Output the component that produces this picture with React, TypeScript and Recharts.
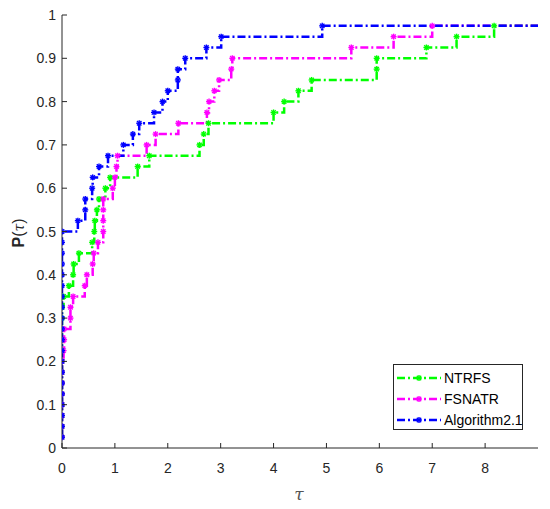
import React from 'react';
import { LineChart, Line, XAxis, YAxis } from 'recharts';

const xTicks = [0, 1, 2, 3, 4, 5, 6, 7, 8];
const yTicks = [0, 0.1, 0.2, 0.3, 0.4, 0.5, 0.6, 0.7, 0.8, 0.9, 1];

const ntrfsTau = [0, 0, 0, 0, 0, 0, 0, 0, 0, 0, 0, 0, 0,
  0.03, 0.13, 0.21, 0.22, 0.32, 0.57, 0.61, 0.62, 0.66, 0.7, 0.82, 0.91, 1.43, 1.65,
  2.6, 2.68, 2.77, 4.0, 4.2, 4.47, 4.72, 5.95, 5.95, 6.89, 7.46, 8.17, 9];
const ntrfsP = [0.025, 0.05, 0.075, 0.1, 0.125, 0.15, 0.175, 0.2, 0.225, 0.25, 0.275, 0.3, 0.325,
  0.35, 0.375, 0.4, 0.425, 0.45, 0.475, 0.5, 0.525, 0.55, 0.575, 0.6, 0.625, 0.65, 0.675,
  0.7, 0.725, 0.75, 0.775, 0.8, 0.825, 0.85, 0.875, 0.9, 0.925, 0.95, 0.975, 0.975];

const fsnatrTau = [0, 0, 0, 0, 0, 0, 0, 0,
  0.03, 0.04, 0.04, 0.16, 0.16, 0.21, 0.43, 0.47, 0.58, 0.6, 0.68, 0.78, 0.78, 0.78, 0.78,
  0.96, 1.0, 1.03, 1.05, 1.6, 1.77, 2.2, 2.74, 2.78, 2.88, 2.97, 3.2, 3.22, 5.47, 6.27, 7.0, 9];
const fsnatrP = [0.025, 0.05, 0.075, 0.1, 0.125, 0.15, 0.175, 0.2,
  0.225, 0.25, 0.275, 0.3, 0.325, 0.35, 0.375, 0.4, 0.425, 0.45, 0.475, 0.5, 0.525, 0.55, 0.575,
  0.6, 0.625, 0.65, 0.675, 0.7, 0.725, 0.75, 0.775, 0.8, 0.825, 0.85, 0.875, 0.9, 0.925, 0.95, 0.975, 0.975];

const algTau = [0, 0, 0, 0, 0, 0, 0, 0, 0, 0, 0, 0, 0, 0, 0, 0, 0, 0, 0, 0,
  0.3, 0.44, 0.44, 0.57, 0.58, 0.7, 0.87, 1.16, 1.34, 1.46, 1.74, 1.9, 2.0, 2.19, 2.19,
  2.33, 2.73, 3.01, 4.92, 9];
const algP = [0.025, 0.05, 0.075, 0.1, 0.125, 0.15, 0.175, 0.2, 0.225, 0.25, 0.275, 0.3, 0.325,
  0.35, 0.375, 0.4, 0.425, 0.45, 0.475, 0.5,
  0.525, 0.55, 0.575, 0.6, 0.625, 0.65, 0.675, 0.7, 0.725, 0.75, 0.775, 0.8, 0.825, 0.85, 0.875,
  0.9, 0.925, 0.95, 0.975, 0.975];

const seriesNames = ['NTRFS', 'FSNATR', 'Algorithm2.1'];
const seriesColors = ['#00ff00', '#ff00ff', '#0000ff'];

const build = (tau: number[], p: number[]) =>
  tau.map((t, i) => ({ t, p: p[i], end: i === tau.length - 1 }));

const ntrfsData = build(ntrfsTau, ntrfsP);
const fsnatrData = build(fsnatrTau, fsnatrP);
const algData = build(algTau, algP);

const AXIS = '#262626';
const FONT = '"Liberation Sans", Arial, sans-serif';
const DASH = '8 3 2 3';

const makeDot = (color: string) => (props: any) => {
  const { cx, cy, payload, index } = props;
  if (payload && payload.end) return <g key={'d' + index} />;
  const r = 3;
  const d = 2.2;
  return (
    <g key={'d' + index} stroke={color} strokeWidth={1.4}>
      <line x1={cx - r} y1={cy} x2={cx + r} y2={cy} />
      <line x1={cx} y1={cy - r} x2={cx} y2={cy + r} />
      <line x1={cx - d} y1={cy - d} x2={cx + d} y2={cy + d} />
      <line x1={cx - d} y1={cy + d} x2={cx + d} y2={cy - d} />
    </g>
  );
};

const BottomTick = (props: any) => {
  const { x, y, payload } = props;
  return (
    <g>
      <line x1={x} y1={y} x2={x} y2={y - 5} stroke={AXIS} strokeWidth={1} />
      <text x={x} y={y + 25} textAnchor="middle" fontSize={14} fill={AXIS} fontFamily={FONT}>
        {payload.value}
      </text>
    </g>
  );
};

const TopTick = (props: any) => {
  const { x, y } = props;
  return <line x1={x} y1={y} x2={x} y2={y + 5} stroke={AXIS} strokeWidth={1} />;
};

const LeftTick = (props: any) => {
  const { x, y, payload } = props;
  return (
    <g>
      <line x1={x} y1={y} x2={x + 5} y2={y} stroke={AXIS} strokeWidth={1} />
      <text x={x - 6} y={y + 5} textAnchor="end" fontSize={14} fill={AXIS} fontFamily={FONT}>
        {payload.value}
      </text>
    </g>
  );
};

const RightTick = (props: any) => {
  const { x, y } = props;
  return <line x1={x} y1={y} x2={x - 5} y2={y} stroke={AXIS} strokeWidth={1} />;
};

const datasets = [ntrfsData, fsnatrData, algData];

export default function App() {
  return (
    <div style={{ position: 'absolute', left: 0, top: 0, width: 550, height: 509, background: '#fff' }}>
      <LineChart width={550} height={509} margin={{ top: 15, right: 12, left: 0, bottom: 21 }}>
        <XAxis
          xAxisId="b"
          dataKey="t"
          type="number"
          domain={[0, 9]}
          ticks={xTicks}
          allowDataOverflow
          height={40}
          tickSize={0}
          tickMargin={0}
          tickLine={false}
          tick={<BottomTick />}
          axisLine={{ stroke: AXIS, strokeWidth: 1 }}
          label={{
            content: () => (
              <text x={299} y={500} textAnchor="middle" fontSize={17} fontStyle="italic" fill="#555" fontFamily="'DejaVu Serif', serif">
                τ
              </text>
            ),
          }}
        />
        <XAxis
          xAxisId="t"
          dataKey="t"
          type="number"
          orientation="top"
          domain={[0, 9]}
          ticks={xTicks}
          allowDataOverflow
          height={0}
          tickSize={0}
          tickMargin={0}
          tickLine={false}
          tick={<TopTick />}
          axisLine={{ stroke: AXIS, strokeWidth: 1 }}
        />
        <YAxis
          yAxisId="l"
          type="number"
          domain={[0, 1]}
          ticks={yTicks}
          allowDataOverflow
          width={62}
          tickSize={0}
          tickMargin={0}
          tickLine={false}
          tick={<LeftTick />}
          axisLine={{ stroke: AXIS, strokeWidth: 1 }}
          label={{
            content: () => (
              <text transform="translate(24,233) rotate(-90)" textAnchor="middle" fontSize={16} fill={AXIS} fontFamily={FONT}>
                <tspan fontWeight="bold">P</tspan>
                <tspan>(</tspan>
                <tspan fontStyle="italic" fontFamily="'DejaVu Serif', serif" fontSize={14}>τ</tspan>
                <tspan>)</tspan>
              </text>
            ),
          }}
        />
        <YAxis
          yAxisId="r"
          type="number"
          orientation="right"
          domain={[0, 1]}
          ticks={yTicks}
          allowDataOverflow
          width={0}
          tickSize={0}
          tickMargin={0}
          tickLine={false}
          tick={<RightTick />}
          axisLine={{ stroke: AXIS, strokeWidth: 1 }}
        />
        {datasets.map((d, i) => (
          <Line
            key={seriesNames[i]}
            xAxisId="b"
            yAxisId="l"
            data={d}
            dataKey="p"
            type="stepAfter"
            stroke={seriesColors[i]}
            strokeWidth={2.5}
            strokeDasharray={DASH}
            dot={makeDot(seriesColors[i])}
            activeDot={false}
            isAnimationActive={false}
          />
        ))}
      </LineChart>
      <div
        style={{
          position: 'absolute',
          left: 393,
          top: 364,
          width: 130,
          height: 66,
          border: '1px solid ' + AXIS,
          background: '#fff',
          boxSizing: 'border-box',
        }}
      >
        <svg width={130} height={66} style={{ position: 'absolute', left: -1, top: -1 }}>
          {seriesNames.map((n, i) => {
            const cy = 14 + i * 21;
            return (
              <g key={n}>
                <line x1={4} y1={cy} x2={48} y2={cy} stroke={seriesColors[i]} strokeWidth={2.5} strokeDasharray={DASH} />
                {makeDot(seriesColors[i])({ cx: 26, cy, payload: {}, index: i })}
                <text x={51} y={cy + 5} fontSize={14} fill="#000" fontFamily={FONT}>
                  {n}
                </text>
              </g>
            );
          })}
        </svg>
      </div>
    </div>
  );
}
